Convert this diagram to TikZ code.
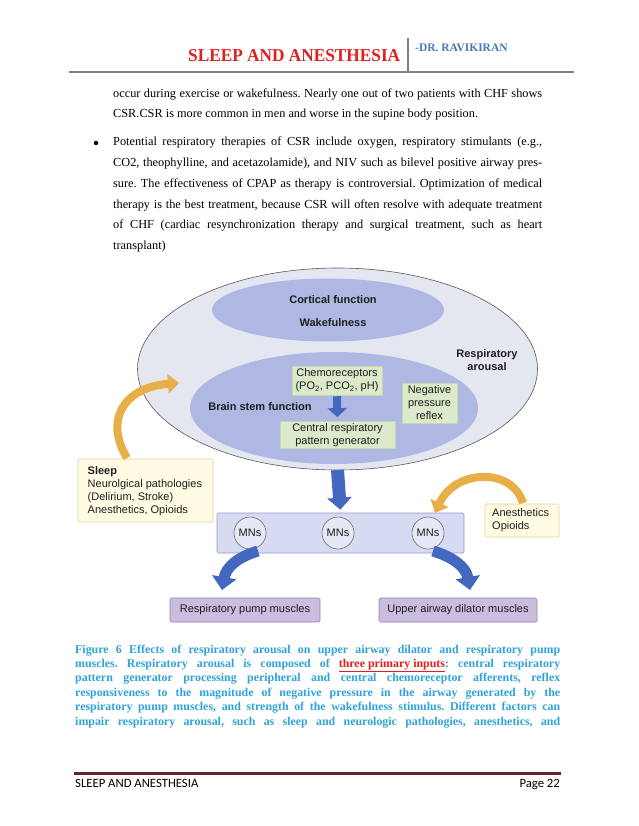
\documentclass[tikz,border=0pt]{standalone}
\usepackage{fontspec}
\usepackage{graphicx}
\setmainfont{Liberation Serif}
\setsansfont{Liberation Sans}
\newfontfamily\footfont{Carlito}
\usetikzlibrary{arrows.meta,shapes.geometric}
\definecolor{hdrred}{HTML}{E0201E}
\definecolor{hdrblue}{HTML}{4A78B5}
\definecolor{hdrgray}{HTML}{808080}
\definecolor{capblue}{HTML}{2FA3DA}
\definecolor{footred}{HTML}{632523}
\definecolor{outerfill}{HTML}{E4E7EF}
\definecolor{outerline}{HTML}{5A5A5A}
\definecolor{lobe}{HTML}{AEB8E2}
\definecolor{greenfill}{HTML}{DCEACB}
\definecolor{greenline}{HTML}{C5D8AE}
\definecolor{mnfill}{HTML}{D6DBF2}
\definecolor{mnline}{HTML}{8E9AD0}
\definecolor{circfill}{HTML}{E6E8F5}
\definecolor{circline}{HTML}{6E6E6E}
\definecolor{purplefill}{HTML}{CBBDE0}
\definecolor{purpleline}{HTML}{9482BA}
\definecolor{creamfill}{HTML}{FFFCE3}
\definecolor{creamline}{HTML}{E2D39B}
\definecolor{orangearr}{HTML}{E8AF48}
\definecolor{bluearr}{HTML}{4467BF}
\definecolor{dtext}{HTML}{1E1E1E}
\newcommand{\bodyjust}[1]{\makebox[429pt][s]{#1}}
\newcommand{\capjust}[1]{\makebox[485pt][s]{#1}}
\frenchspacing
\begin{document}
\begin{tikzpicture}[x=1pt,y=-1pt,
  bodyline/.style={anchor=base west,inner sep=0,font=\fontsize{12.3}{14}\selectfont},
  capline/.style={anchor=base west,inner sep=0,text=capblue,font=\fontsize{11.9}{14}\selectfont\bfseries},
  dtxt/.style={font=\sffamily\fontsize{11}{13}\selectfont,text=dtext},
  dbold/.style={font=\sffamily\bfseries\fontsize{11}{13}\selectfont,text=dtext},
  greenbox/.style={rectangle,draw=greenline,fill=greenfill,line width=0.5pt,inner sep=2pt,align=center,dtxt},
  creambox/.style={rectangle,draw=creamline,fill=creamfill,line width=0.7pt,rounded corners=1.5pt},
  purplebox/.style={rectangle,draw=purpleline,fill=purplefill,line width=0.7pt,rounded corners=1.5pt,dtxt},
  mncirc/.style={circle,draw=circline,fill=circfill,line width=0.6pt,minimum size=32pt,inner sep=0,dtxt},
  bluestraight/.style={draw=bluearr},
  orangecurve/.style={draw=orangearr,line width=8pt,-{Triangle[width=19pt,length=11pt]}},
  bluecurve/.style={draw=bluearr,line width=11pt,-{Triangle[width=24pt,length=13pt]}},
  sleeptext/.style={anchor=base west,inner sep=0,dtxt},
  foottext/.style={inner sep=0,font=\footfont\fontsize{12.7}{14}\selectfont}
]
\useasboundingbox[fill=white] (0,0) rectangle (638,826);

% ---------- header ----------
\node[anchor=base west,inner sep=0,text=hdrred] (htitle) at (188,62) {\resizebox{212pt}{12pt}{\bfseries SLEEP AND ANESTHESIA}};
\draw[hdrgray,line width=1.5pt] (408,38) -- (408,72);
\node[anchor=base west,inner sep=0,text=hdrblue,font=\fontsize{11.5}{13}\selectfont\bfseries] (hauthor) at (415,52) {-DR. RAVIKIRAN};
\draw[hdrgray,line width=2pt] (69,72.5) -- (574,72.5);

% ---------- body text ----------
\node[bodyline] (b1) at (113,98) {\bodyjust{occur during exercise or wakefulness. Nearly one out of two patients with CHF shows}};
\node[bodyline] (b2) at (113,118) {CSR.CSR is more common in men and worse in the supine body position.};
\node[circle,fill=black,inner sep=0,minimum size=4.5pt] (bul) at (96,143) {};
\node[bodyline] (b3) at (113,146) {\bodyjust{Potential respiratory therapies of CSR include oxygen, respiratory stimulants (e.g.,}};
\node[bodyline] (b4) at (113,166.7) {\bodyjust{CO2, theophylline, and acetazolamide), and NIV such as bilevel positive airway pres-}};
\node[bodyline] (b5) at (113,187.4) {\bodyjust{sure. The effectiveness of CPAP as therapy is controversial. Optimization of medical}};
\node[bodyline] (b6) at (113,208.1) {\bodyjust{therapy is the best treatment, because CSR will often resolve with adequate treatment}};
\node[bodyline] (b7) at (113,228.8) {\bodyjust{of CHF (cardiac resynchronization therapy and surgical treatment, such as heart}};
\node[bodyline] (b8) at (113,249.5) {transplant)};

% ---------- diagram ----------
\node[ellipse,draw=outerline,line width=0.6pt,fill=outerfill,minimum width=400pt,minimum height=202pt,inner sep=0,outer sep=0] (outer) at (337.5,369) {};
\node[ellipse,fill=lobe,minimum width=232pt,minimum height=63pt,inner sep=0,outer sep=0] (cortex) at (328,310) {};
\node[ellipse,fill=lobe,minimum width=288pt,minimum height=112pt,inner sep=0,outer sep=0] (brainstem) at (334,408) {};

\node[dbold] (cortt) at (333,300) {Cortical function};
\node[dbold] (wake) at (333,323) {Wakefulness};
\node[dbold,align=center] (resp) at (487,360) {Respiratory\\arousal};
\node[dbold] (bst) at (260,407) {Brain stem function};

\node[greenbox,minimum width=90pt,minimum height=29pt] (chemo) at (337,380.5) {Chemoreceptors\\(PO\textsubscript{2}, PCO\textsubscript{2}, pH)};
\node[greenbox,minimum width=115pt,minimum height=26pt] (cpg) at (337.5,435) {Central respiratory\\pattern generator};
\node[greenbox,minimum width=55pt,minimum height=40pt] (npr) at (429.5,403) {Negative\\pressure\\reflex};

\draw[bluestraight,line width=8pt,-{Triangle[width=19pt,length=9pt]},shorten <=1pt,shorten >=4pt] (chemo.south) -- (cpg.north);

\node[rectangle,draw=mnline,fill=mnfill,line width=0.7pt,minimum width=247pt,minimum height=40pt,rounded corners=1.5pt] (mnbox) at (340.5,533) {};
\node[mncirc] (mn1) at (250,533) {MNs};
\node[mncirc] (mn2) at (338,533) {MNs};
\node[mncirc] (mn3) at (428,533) {MNs};

\draw[bluestraight,line width=13pt,-{Triangle[width=24pt,length=12pt]},shorten >=3pt] (outer.south) -- (mnbox.north);

\node[purplebox,minimum width=150pt,minimum height=24pt] (pump) at (245,610) {Respiratory pump muscles};
\node[purplebox,minimum width=158pt,minimum height=24pt] (dilator) at (458,610) {Upper airway dilator muscles};

\coordinate (lstart) at (258,551);
\coordinate (lend) at (222,590);
\coordinate (rstart) at (433,551);
\coordinate (rend) at (470,590);
\draw[bluecurve] (lstart) .. controls (238,557) and (226,567) .. (lend);
\draw[bluecurve] (rstart) .. controls (453,557) and (466,567) .. (rend);

% sleep box
\node[creambox,minimum width=135pt,minimum height=63pt] (sleep) at (145.5,490.5) {};
\node[sleeptext,font=\sffamily\bfseries\fontsize{11}{13}\selectfont] (s1) at (87.5,474) {Sleep};
\node[sleeptext] (s2) at (87.5,487) {Neurolgical pathologies};
\node[sleeptext] (s3) at (87.5,500) {(Delirium, Stroke)};
\node[sleeptext] (s4) at (87.5,513) {Anesthetics, Opioids};

% anesthetics box
\node[creambox,minimum width=74pt,minimum height=33pt] (anes) at (522,520.5) {};
\node[sleeptext] (a1) at (492,516) {Anesthetics};
\node[sleeptext] (a2) at (492,529) {Opioids};

\coordinate (ostartl) at (127,458);
\coordinate (oendl) at (179,383);
\draw[orangecurve] (ostartl) .. controls (104,420) and (124,387) .. (oendl);
\coordinate (ostartr) at (523,503);
\coordinate (oendr) at (435,513);
\draw[orangecurve] (ostartr) .. controls (512,467) and (455,469) .. (oendr);

% ---------- caption ----------
\node[capline] (c1) at (75,653) {\capjust{Figure 6 Effects of respiratory arousal on upper airway dilator and respiratory pump}};
\node[capline] (c2) at (75,667.4) {\capjust{muscles. Respiratory arousal is composed of \textcolor{hdrred}{\underline{three primary inputs}}: central respiratory}};
\node[capline] (c3) at (75,681.8) {\capjust{pattern generator processing peripheral and central chemoreceptor afferents, reflex}};
\node[capline] (c4) at (75,696.2) {\capjust{responsiveness to the magnitude of negative pressure in the airway generated by the}};
\node[capline] (c5) at (75,710.6) {\capjust{respiratory pump muscles, and strength of the wakefulness stimulus. Different factors can}};
\node[capline] (c6) at (75,725) {\capjust{impair respiratory arousal, such as sleep and neurologic pathologies, anesthetics, and}};

% ---------- footer ----------
\draw[footred,line width=3pt] (74,773) -- (561,773);
\node[foottext,anchor=base west] (fl) at (75,787) {SLEEP AND ANESTHESIA};
\node[foottext,anchor=base east] (fr) at (560,787) {Page 22};
\end{tikzpicture}
\end{document}
